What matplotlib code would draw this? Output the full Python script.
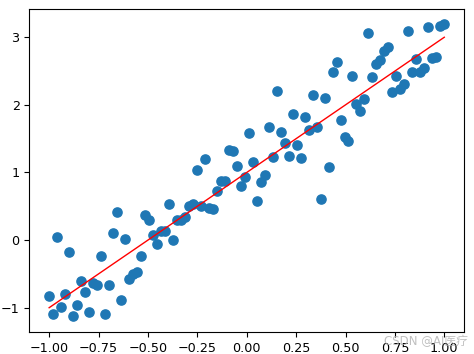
import numpy as np
import matplotlib
matplotlib.use("Agg")
import matplotlib.pyplot as plt

plt.rcParams['font.family'] = ['DejaVu Sans', 'Noto Sans CJK SC']

x = np.linspace(-1, 1, 100)
y = [-0.83, -1.09, 0.05, -0.99, -0.79, -0.17, -1.12, -0.96, -0.61, -0.77,
     -1.07, -0.64, -0.67, -0.24, -1.10, -0.67, 0.10, 0.42, -0.88, 0.02,
     -0.58, -0.50, -0.47, -0.24, 0.37, 0.30, 0.07, -0.06, 0.13, 0.13,
     0.53, 0.00, 0.30, 0.30, 0.34, 0.51, 0.53, 1.03, 0.50, 1.20,
     0.48, 0.46, 0.73, 0.87, 0.88, 1.33, 1.32, 1.10, 0.80, 0.94,
     1.59, 1.15, 0.58, 0.86, 0.96, 1.67, 1.23, 2.21, 1.60, 1.43,
     1.25, 1.86, 1.40, 1.22, 1.82, 1.63, 2.14, 1.67, 0.61, 2.10,
     1.08, 2.49, 2.63, 1.78, 1.53, 1.47, 2.42, 2.02, 1.91, 2.09,
     3.07, 2.41, 2.61, 2.66, 2.80, 2.86, 2.19, 2.42, 2.24, 2.31,
     3.09, 2.48, 2.68, 2.48, 2.55, 3.15, 2.69, 2.71, 3.17, 3.20]
fit_x = [-1.0, 1.0]
fit_y = [-1.0, 3.0]

fig = plt.figure(figsize=(4.74, 3.54), dpi=100)
ax = fig.add_axes([0.062, 0.062, 0.917, 0.913])
ax.scatter(x, y, s=44, color='#1f77b4', zorder=2)
ax.plot(fit_x, fit_y, color='red', linewidth=1, zorder=3)
ax.set_xticks([-1.0, -0.75, -0.5, -0.25, 0.0, 0.25, 0.5, 0.75, 1.0])
ax.set_xticklabels(['−1.00', '−0.75', '−0.50', '−0.25', '0.00', '0.25', '0.50', '0.75', '1.00'])
ax.set_yticks([-1, 0, 1, 2, 3])
ax.tick_params(labelsize=9.2, length=3.5)
ax.set_xlim(-1.1, 1.1)
ax.set_ylim(-1.36, 3.42)
fig.text(0.81, 0.025, 'CSDN @AI医疗', fontsize=8.5, color='#b0b0b0', alpha=0.8,
         family=['DejaVu Sans', 'Noto Sans CJK SC'])
fig.savefig('out.png', dpi=100)
